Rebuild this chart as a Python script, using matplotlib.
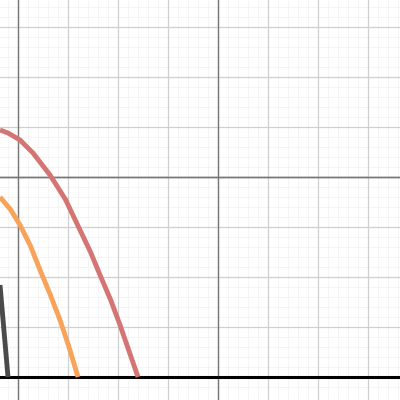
import matplotlib
matplotlib.use("Agg")
import matplotlib.pyplot as plt
import numpy as np

red_x = [-0.36, -0.2, 0.04, 0.3, 0.64, 0.95, 1.24, 1.45, 1.64, 1.85, 2.04, 2.22, 2.4]
red_y = [4.94, 4.88, 4.74, 4.48, 4.04, 3.55, 2.94, 2.5, 2.04, 1.55, 1.04, 0.52, 0.0]
orange_x = [-0.36, -0.15, 0.04, 0.25, 0.44, 0.64, 0.84, 1.02, 1.2]
orange_y = [3.6, 3.35, 3.04, 2.62, 2.14, 1.66, 1.14, 0.6, 0.0]
black_x = [-0.36, -0.2]
black_y = [1.84, 0.0]

fig = plt.figure(figsize=(4, 4), dpi=100)
ax = fig.add_axes([0, 0, 1, 1])
ax.set_xlim(-0.36, 7.64)
ax.set_ylim(-0.46, 7.54)
for v in np.arange(-0.2, 7.7, 0.2):
    ax.axvline(v, color="#f3f3f3", lw=0.6, zorder=0)
    ax.axhline(v, color="#f3f3f3", lw=0.6, zorder=0)
for v in range(0, 8):
    ax.axvline(v, color="#d0d0d0", lw=0.9, zorder=1)
    ax.axhline(v, color="#d0d0d0", lw=0.9, zorder=1)
for v in [0, 4]:
    ax.axvline(v, color="#777777", lw=1.0, zorder=1)
    ax.axhline(4, color="#777777", lw=1.0, zorder=1)
ax.axhline(0, color="black", lw=2.2, zorder=2)
ax.plot(red_x, red_y, color="#d47573", lw=3.5, zorder=3, solid_capstyle="butt")
ax.plot(orange_x, orange_y, color="#f9a35a", lw=3.5, zorder=3, solid_capstyle="butt")
ax.plot(black_x, black_y, color="#4a4a4a", lw=3.5, zorder=3, solid_capstyle="butt")
ax.axis("off")
fig.savefig("out.png", dpi=100, facecolor="white")
